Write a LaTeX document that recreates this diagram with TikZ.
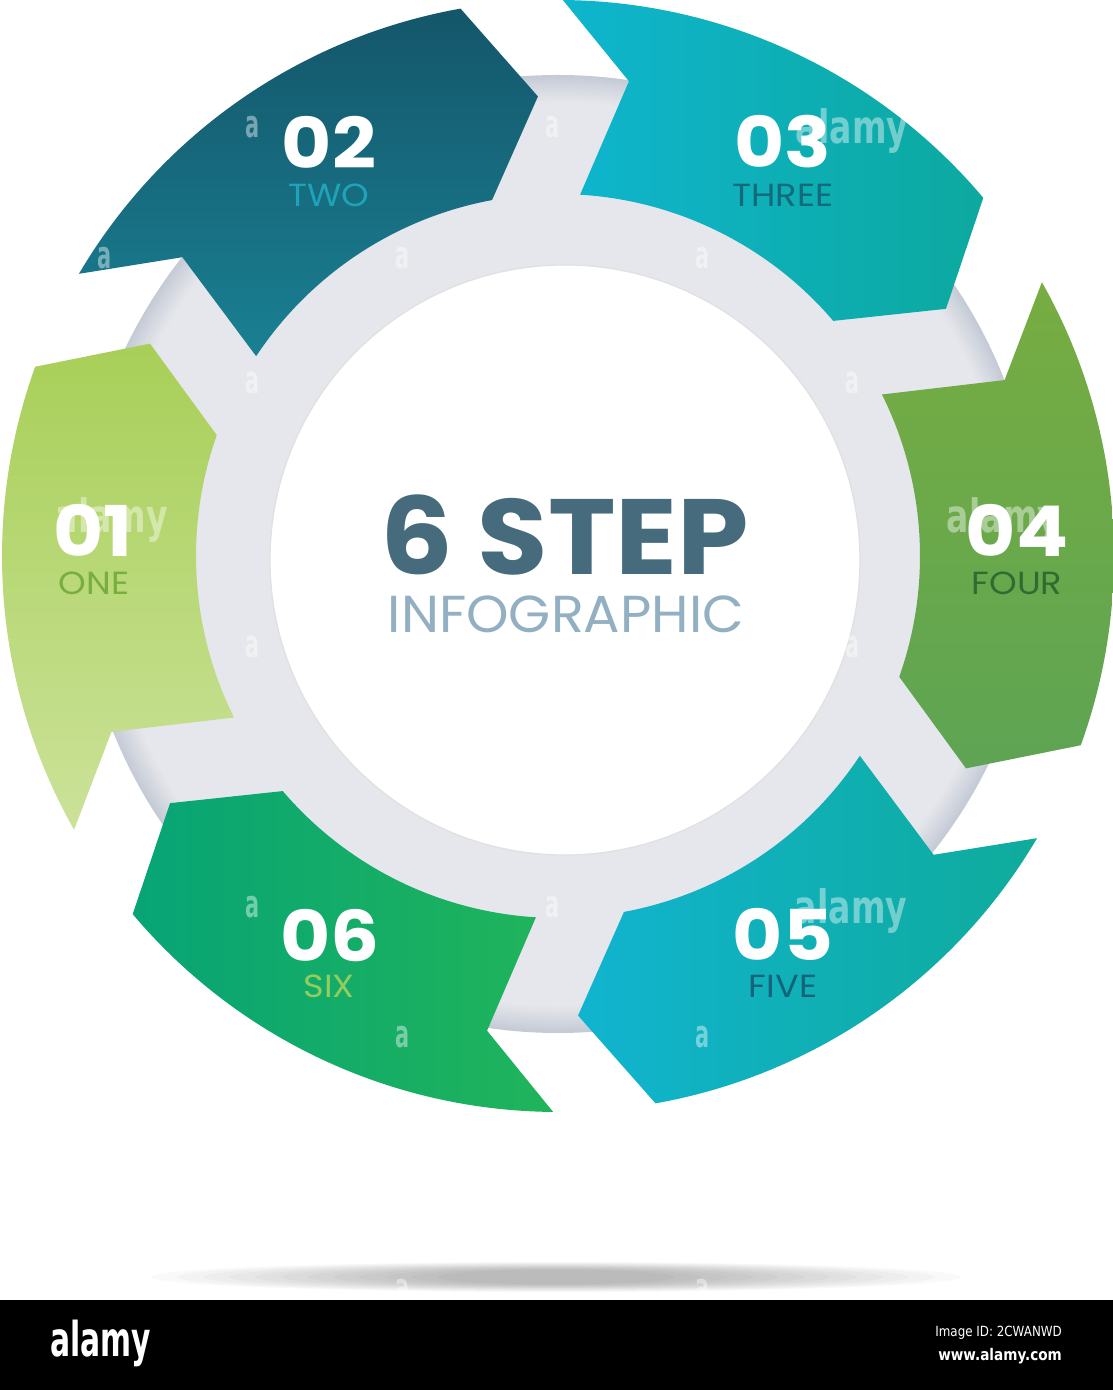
\documentclass[tikz,border=0pt]{standalone}
\usepackage{fontspec}
\setmainfont{Poppins}
\newfontfamily\alamyfont{DejaVu Sans}
\usetikzlibrary{calc}
\definecolor{ringgray}{HTML}{E6E7EC}
\definecolor{ringdark}{HTML}{C4CBD6}
\definecolor{titleblue}{HTML}{466B7D}
\definecolor{subblue}{HTML}{93B0C3}
\definecolor{aonetop}{HTML}{A8CF58}
\definecolor{aonebot}{HTML}{CBE299}
\definecolor{atwotop}{HTML}{14566A}
\definecolor{atwobot}{HTML}{1A8093}
\definecolor{athreel}{HTML}{0EB5CE}
\definecolor{athreer}{HTML}{0DA99F}
\definecolor{afourtop}{HTML}{77AD41}
\definecolor{afourbot}{HTML}{5EA453}
\definecolor{afivel}{HTML}{10B4CF}
\definecolor{afiver}{HTML}{0FAB9C}
\definecolor{asixl}{HTML}{07A476}
\definecolor{asixr}{HTML}{20B45A}
\definecolor{lone}{HTML}{78AE40}
\definecolor{ltwo}{HTML}{1EA3B8}
\definecolor{lthree}{HTML}{136A7B}
\definecolor{lfour}{HTML}{2E6C32}
\definecolor{lfive}{HTML}{14637B}
\definecolor{lsix}{HTML}{94CC5E}
\newcommand{\steparrow}[1]{(#1:460) -- (#1+7.6:556) arc[start angle=#1+7.6, end angle=#1+57, radius=556pt] -- (#1+49:480) -- (#1+54:362) arc[start angle=#1+54, end angle=#1+8, radius=362pt] -- cycle}
\tikzset{
  numtxt/.style={font=\fontsize{70}{70}\selectfont\bfseries, text=white, anchor=base, inner sep=0pt, xscale=1.1},
  lbltxt/.style={font=\fontsize{32}{32}\selectfont, anchor=base, inner sep=0pt, xscale=1.1},
  wma/.style={text=white, opacity=0.42, font=\alamyfont\bfseries\fontsize{38}{38}\selectfont, xscale=0.55, inner sep=0pt},
  wmbig/.style={text=white, opacity=0.42, font=\alamyfont\bfseries\fontsize{46}{46}\selectfont, xscale=0.72, inner sep=0pt}
}
\begin{document}
\begin{tikzpicture}[x=1pt,y=1pt]
\useasboundingbox (0,0) rectangle (1113,1390);
\fill[white] (0,0) rectangle (1113,1390);
% floor shadow
\foreach \i in {0,...,11}{
  \fill[black, opacity=0.022] (556,113) ellipse[x radius={405pt-\i*26pt}, y radius={15pt-\i*0.7pt}];
}
% ring
\coordinate (RC) at (558,836);
\foreach \i in {0,...,16}{
  \pgfmathsetmacro\p{min(100,\i*6.5)}
  \fill[ringgray!\p!ringdark] (RC) circle[radius={479pt-\i*1.7pt}];
}
\coordinate (WC) at (565,830);
\fill[white] (WC) circle[radius=295pt];
\draw[black!12, line width=1.2pt] (WC) circle[radius=295pt];
% arrows
\begin{scope}[shift={(558,834)}]
\shade[top color=aonetop, bottom color=aonebot] \steparrow{152.5};
\shade[top color=atwotop, bottom color=atwobot] \steparrow{92.5};
\shade[left color=athreel, right color=athreer] \steparrow{32.5};
\shade[top color=afourtop, bottom color=afourbot] \steparrow{-27.5};
\shade[left color=afivel, right color=afiver] \steparrow{-87.5};
\shade[left color=asixl, right color=asixr] \steparrow{-147.5};
\end{scope}
% watermarks
\foreach \px/\py [count=\k] in {253/127,553/127,105/258,403/258,703/258,253/383,853/383,403/513,703/513,253/647,853/647,253/907,553/907,403/1037,703/1037,403/1290,703/1290}{
  \node[wma] (wa\k) at (\px,1390-\py) {a};
}
\node[wmbig] (wb1) at (112,1390-520) {alamy};
\node[wmbig] (wb3) at (852,1390-131) {alamy};
\node[wmbig] (wb4) at (1003,1390-520) {alamy};
\node[wmbig] (wb5) at (851,1390-911) {alamy};
% step texts
\node[numtxt] (n1) at (93,1390-557) {01};
\node[lbltxt, text=lone] (l1) at (94,1390-595) {ONE};
\node[numtxt] (n2) at (329,1390-169) {02};
\node[lbltxt, text=ltwo] (l2) at (329,1390-207) {TWO};
\node[numtxt] (n3) at (783,1390-168) {03};
\node[lbltxt, text=lthree] (l3) at (783,1390-207) {THREE};
\node[numtxt] (n4) at (1017,1390-557) {04};
\node[lbltxt, text=lfour] (l4) at (1017,1390-595) {FOUR};
\node[numtxt] (n5) at (783,1390-961) {05};
\node[lbltxt, text=lfive] (l5) at (783,1390-998) {FIVE};
\node[numtxt] (n6) at (330,1390-962) {06};
\node[lbltxt, text=lsix] (l6) at (329,1390-998) {SIX};
% title
\node[font=\fontsize{107}{107}\selectfont\bfseries, text=titleblue, anchor=base, inner sep=0pt, xscale=1.07] (title) at (565,1390-575) {6 STEP};
\node[font=\fontsize{52}{52}\selectfont, text=subblue, anchor=base, inner sep=0pt, xscale=1.04] (subtitle) at (566,1390-633) {INFOGRAPHIC};
% bottom bar
\fill[black] (0,0) rectangle (1113,90);
\node[font=\alamyfont\bfseries\fontsize{48}{48}\selectfont, text=white, anchor=base west, xscale=0.62, inner sep=0pt] (logo) at (50,1390-1357) {alamy};
\node[font=\alamyfont\fontsize{14}{14}\selectfont, text=white, anchor=base east, xscale=0.85, inner sep=0pt] (imgid) at (1062,1390-1337) {Image ID: 2CWANWD};
\node[font=\alamyfont\bfseries\fontsize{16}{16}\selectfont, text=white, anchor=base east, xscale=0.85, inner sep=0pt] (www) at (1062,1390-1361) {www.alamy.com};
\end{tikzpicture}
\end{document}
